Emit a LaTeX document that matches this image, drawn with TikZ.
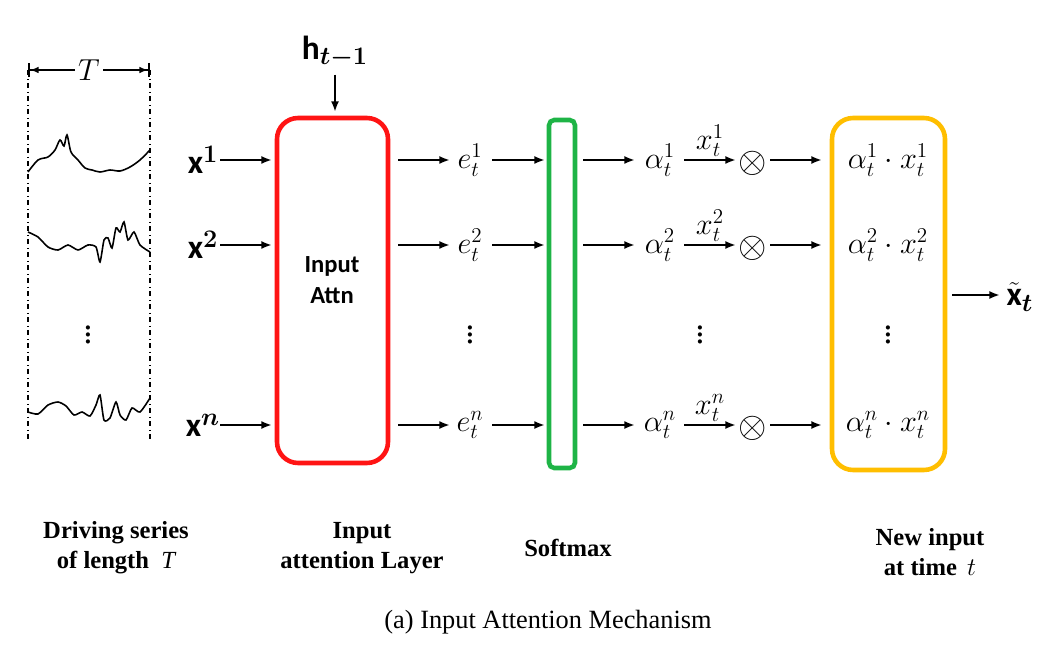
\documentclass[tikz,border=0pt]{standalone}
\usepackage{fontspec}
\usepackage{amsmath,amssymb}
\usetikzlibrary{arrows.meta}
\setmainfont{Liberation Serif}
\newfontfamily\carl{Carlito}
\begin{document}
\begin{tikzpicture}[x=0.02cm,y=-0.02cm,
  ar/.style={-{Latex[length=6pt,width=4.5pt]},line width=1.2pt},
  bx/.style={rounded corners=12pt,line width=2.6pt},
  lab/.style={font=\fontsize{17pt}{19pt}\selectfont},
  sb/.style={font=\carl\bfseries\fontsize{19pt}{21pt}\selectfont},
  dt/.style={font=\fontsize{20pt}{22pt}\selectfont},
  bl/.style={font=\bfseries\fontsize{14pt}{17pt}\selectfont,align=center}]
\useasboundingbox (0,0) rectangle (1064,658);
% series
\draw[dash dot,line width=1pt] (28,70) -- (28,440);
\draw[dash dot,line width=1pt] (150,70) -- (150,440);
\coordinate (ta) at (28,70); \coordinate (tb) at (150,70);
\draw[{Bar[width=8pt]Latex[length=5pt]}-{Latex[length=5pt]Bar[width=8pt]},line width=1pt] (ta) -- (tb) node[midway,fill=white,lab,inner sep=2pt] (T) {$T$};
\draw[line width=0.9pt] plot[smooth] coordinates {(28,172) (38,160) (48,157) (55,150) (60,140) (64,146) (67,135) (71,152) (78,160) (85,168) (92,170) (100,172) (110,170) (120,171) (130,167) (140,160) (150,150)};
\draw[line width=0.9pt] plot[smooth,tension=0.4] coordinates {(28,232) (38,237) (48,247) (58,250) (68,245) (78,250) (88,245) (96,247) (100,262) (104,240) (108,238) (112,248) (116,228) (120,232) (124,222) (128,240) (134,232) (140,245) (150,252)};
\draw[line width=0.9pt] plot[smooth,tension=0.4] coordinates {(28,412) (38,414) (48,405) (58,402) (66,406) (74,415) (82,412) (90,416) (96,405) (100,395) (104,420) (110,418) (116,402) (120,415) (126,420) (132,408) (140,412) (150,398)};
\node[dt] (d0) at (88,330) {$\vdots$};
% inputs
\foreach \i/\y/\s in {1/160/1,2/245/2,n/425/n}{
  \node[sb] (x\i) at (203,\y) {x$^{\boldsymbol{\s}}$};
  \coordinate (xs\i) at (220,\y); \coordinate (xe\i) at (272,\y);
  \draw[ar] (xs\i) -- (xe\i);
  \coordinate (es\i) at (398,\y); \coordinate (ee\i) at (450,\y);
  \draw[ar] (es\i) -- (ee\i);
  \node[lab] (e\i) at (470,\y) {$e_t^{\s}$};
  \coordinate (fs\i) at (492,\y); \coordinate (fe\i) at (545,\y);
  \draw[ar] (fs\i) -- (fe\i);
  \coordinate (gs\i) at (583,\y); \coordinate (ge\i) at (635,\y);
  \draw[ar] (gs\i) -- (ge\i);
  \node[lab] (a\i) at (660,\y) {$\alpha_t^{\s}$};
  \coordinate (hs\i) at (684,\y); \coordinate (he\i) at (736,\y);
  \draw[ar] (hs\i) -- (he\i) node[midway,above=-2pt,lab] (xl\i) {$x_t^{\s}$};
  \node[font=\fontsize{20pt}{22pt}\selectfont,inner sep=0pt] (o\i) at (753,\y+3) {$\otimes$};
  \coordinate (is\i) at (770,\y); \coordinate (ie\i) at (822,\y);
  \draw[ar] (is\i) -- (ie\i);
  \node[lab] (r\i) at (888,\y) {$\alpha_t^{\s}\cdot x_t^{\s}$};
}
\node[dt] (d1) at (470,330) {$\vdots$};
\node[dt] (d2) at (700,330) {$\vdots$};
\node[dt] (d3) at (888,330) {$\vdots$};
% boxes
\draw[bx,draw={rgb,255:red,255;green,20;blue,20}] (277,118) rectangle (388,463);
\node[font=\carl\bfseries\fontsize{14pt}{18pt}\selectfont,align=center] (attn) at (332,280) {Input\\Attn};
\draw[bx,rounded corners=3pt,draw={rgb,255:red,30;green,180;blue,70}] (549,120) rectangle (575,468);
\draw[bx,draw={rgb,255:red,255;green,190;blue,0}] (832,118) rectangle (945,470);
\node[sb] (h) at (335,52) {h$_{\boldsymbol{t-1}}$};
\coordinate (hb) at (335,112);
\draw[ar] (h.south) -- (hb);
\coordinate (os) at (952,295); \coordinate (oe) at (1000,295);
\draw[ar] (os) -- (oe);
\node[sb] (xt) at (1020,297) {$\tilde{\text{x}}$$_{\boldsymbol t}$};
% labels
\node[bl] (l1) at (116,548) {Driving series\\of length \ $\mathit{T}$};
\node[bl] (l2) at (362,548) {Input\\attention Layer};
\node[bl] (l3) at (568,548) {Softmax};
\node[bl] (l4) at (930,552) {New input\\at time \,$t$};
\node[font=\fontsize{15pt}{17pt}\selectfont] (cap) at (548,622) {(a) Input Attention Mechanism};
\end{tikzpicture}
\end{document}
